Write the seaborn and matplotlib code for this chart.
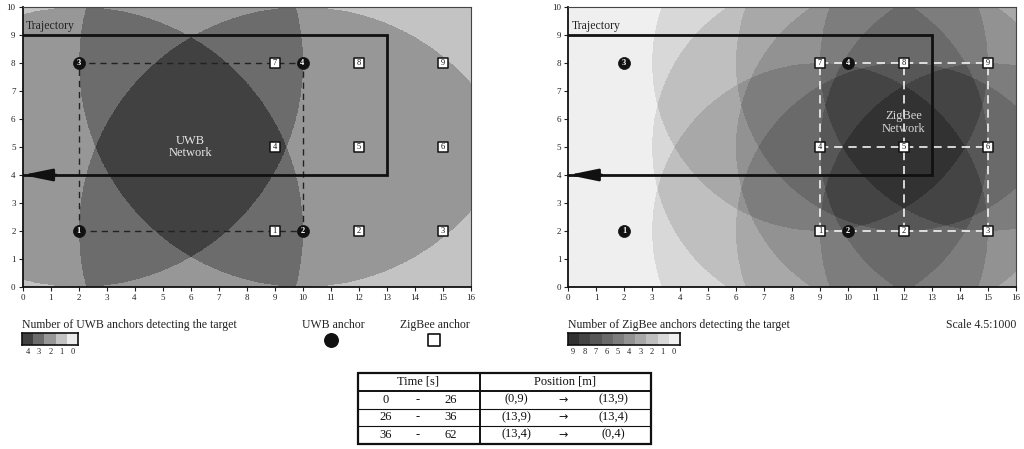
import numpy as np
import matplotlib
matplotlib.use("Agg")
import matplotlib.pyplot as plt
from matplotlib.colors import ListedColormap, BoundaryNorm
import seaborn as sns

# ---------------- data ----------------
uwb_ids = [1, 2, 3, 4]
uwb_x = [2, 10, 2, 10]
uwb_y = [2, 2, 8, 8]
uwb_range = 8.0

zig_ids = [1, 2, 3, 4, 5, 6, 7, 8, 9]
zig_x = [9, 12, 15, 9, 12, 15, 9, 12, 15]
zig_y = [2, 2, 2, 5, 5, 5, 8, 8, 8]
zig_range = 6.0

traj_x = [0, 13, 13, 0]
traj_y = [9, 9, 4, 4]

time_start = [0, 26, 36]
time_end = [26, 36, 62]
pos_from = ["(0,9)", "(13,9)", "(13,4)"]
pos_to = ["(13,9)", "(13,4)", "(0,4)"]

uwb_levels = [0, 1, 2, 3, 4]
uwb_colors = ["#ececec", "#c3c3c3", "#979797", "#6c6c6c", "#414141"]
zig_levels = [0, 1, 2, 3, 4, 5, 6, 7, 8, 9]
zig_colors = ["#efefef", "#d8d8d8", "#bfbfbf", "#a8a8a8", "#929292",
              "#7d7d7d", "#6a6a6a", "#575757", "#444444", "#323232"]

x_ticks = list(range(0, 17))
y_ticks = list(range(0, 11))

# ---------------- style ----------------
sns.set_theme(style="ticks")
plt.rcParams["font.family"] = ["Liberation Serif", "DejaVu Serif"]
plt.rcParams["mathtext.fontset"] = "stix"

W, H = 1024, 449
fig = plt.figure(figsize=(W / 100, H / 100), dpi=100)
fig.patch.set_facecolor("white")


def fpos(x0, y0, x1, y1):
    return [x0 / W, 1 - y1 / H, (x1 - x0) / W, (y1 - y0) / H]


gx = np.linspace(0, 16, 1601)
gy = np.linspace(0, 10, 1001)
GX, GY = np.meshgrid(gx, gy)


def coverage(ax_list, ay_list, r):
    c = np.zeros_like(GX, dtype=int)
    for a, b in zip(ax_list, ay_list):
        c += ((GX - a) ** 2 + (GY - b) ** 2 <= r * r).astype(int)
    return c


def style_axes(ax):
    ax.set_xlim(0, 16)
    ax.set_ylim(0, 10)
    ax.set_xticks(x_ticks)
    ax.set_yticks(y_ticks)
    ax.tick_params(direction="out", length=3, width=0.8, labelsize=6.5,
                   pad=2, colors="#222222")
    for s in ["left", "bottom"]:
        ax.spines[s].set_linewidth(1.3)
        ax.spines[s].set_color("#111111")
    for s in ["top", "right"]:
        ax.spines[s].set_linewidth(0.8)
        ax.spines[s].set_color("#444444")


def draw_traj(ax):
    ax.plot(traj_x, traj_y, color="#111111", lw=2.0, solid_joinstyle="miter",
            zorder=5)
    ax.annotate("", xy=(traj_x[-1], traj_y[-1]),
                xytext=(traj_x[-1] + 1.2, traj_y[-1]),
                arrowprops=dict(arrowstyle="-|>,head_length=1.75,head_width=0.36",
                                color="#111111", lw=2, shrinkA=0, shrinkB=0,
                                mutation_scale=10),
                zorder=6)
    ax.text(0.12, 9.33, "Trajectory", fontsize=8.5, va="center", ha="left",
            color="#222222", zorder=6)


def draw_uwb(ax):
    sns.scatterplot(x=uwb_x, y=uwb_y, ax=ax, marker="o", s=75,
                    color="#111111", edgecolor="#111111", linewidth=0.5,
                    zorder=8, legend=False)
    for i, a, b in zip(uwb_ids, uwb_x, uwb_y):
        ax.text(a, b, str(i), color="white", fontsize=6, fontweight="bold",
                ha="center", va="center", zorder=9)


def draw_zig(ax):
    sns.scatterplot(x=zig_x, y=zig_y, ax=ax, marker="s", s=62,
                    color="white", edgecolor="#111111", linewidth=1.1,
                    zorder=8, legend=False)
    for i, a, b in zip(zig_ids, zig_x, zig_y):
        ax.text(a, b, str(i), color="#111111", fontsize=6,
                ha="center", va="center", zorder=9)


# ---------------- left panel (UWB) ----------------
axL = fig.add_axes(fpos(22.5, 7.3, 470.5, 286.8))
cmapL = ListedColormap(uwb_colors)
normL = BoundaryNorm(np.arange(-0.5, len(uwb_levels)), cmapL.N)
axL.imshow(coverage(uwb_x, uwb_y, uwb_range), origin="lower",
           extent=(0, 16, 0, 10), cmap=cmapL, norm=normL, aspect="auto",
           interpolation="nearest", zorder=0)
style_axes(axL)
# dashed UWB network rectangle
rx = [uwb_x[0], uwb_x[1], uwb_x[3], uwb_x[2], uwb_x[0]]
ry = [uwb_y[0], uwb_y[1], uwb_y[3], uwb_y[2], uwb_y[0]]
axL.plot(rx, ry, color="#222222", lw=1.0, ls=(0, (4.5, 3.5)), zorder=3)
draw_traj(axL)
draw_uwb(axL)
draw_zig(axL)
axL.text(6.0, 5.0, "UWB\nNetwork", color="#e8e8e8", fontsize=9,
         ha="center", va="center", linespacing=1.1, zorder=6)

# ---------------- right panel (ZigBee) ----------------
axR = fig.add_axes(fpos(568.3, 7.3, 1015.7, 286.8))
cmapR = ListedColormap(zig_colors)
normR = BoundaryNorm(np.arange(-0.5, len(zig_levels)), cmapR.N)
axR.imshow(coverage(zig_x, zig_y, zig_range), origin="lower",
           extent=(0, 16, 0, 10), cmap=cmapR, norm=normR, aspect="auto",
           interpolation="nearest", zorder=0)
style_axes(axR)
# white dashed ZigBee grid
for yy in sorted(set(zig_y)):
    axR.plot([min(zig_x), max(zig_x)], [yy, yy], color="#f2f2f2", lw=1.2,
             ls=(0, (5, 3.5)), zorder=3)
for xx in sorted(set(zig_x)):
    axR.plot([xx, xx], [min(zig_y), max(zig_y)], color="#f2f2f2", lw=1.2,
             ls=(0, (5, 3.5)), zorder=3)
draw_traj(axR)
draw_uwb(axR)
draw_zig(axR)
axR.text(12.0, 5.87, "ZigBee\nNetwork", color="#d6d6d6", fontsize=9,
         ha="center", va="center", linespacing=1.1, zorder=6)

# ---------------- colour legends ----------------
def color_bar(pos, colors, levels):
    cax = fig.add_axes(pos)
    vals = np.array(levels[::-1])[None, :]
    cmap = ListedColormap(colors)
    norm = BoundaryNorm(np.arange(-0.5, len(levels)), cmap.N)
    cax.imshow(vals, cmap=cmap, norm=norm, aspect="auto",
               extent=(-0.5, len(levels) - 0.5, 0, 1))
    cax.set_xticks(range(len(levels)))
    cax.set_xticklabels([str(v) for v in levels[::-1]])
    cax.set_yticks([])
    cax.tick_params(axis="x", length=0, labelsize=6, pad=2, colors="#222222")
    for s in cax.spines.values():
        s.set_linewidth(1.2)
        s.set_color("#111111")
    return cax


color_bar(fpos(22.3, 333.3, 78.3, 345.3), uwb_colors, uwb_levels)
color_bar(fpos(567.5, 333.3, 679.5, 345.3), zig_colors, zig_levels)

# ---------------- overlay (legend texts, markers, table) ----------------
ov = fig.add_axes([0, 0, 1, 1])
ov.set_xlim(0, W)
ov.set_ylim(H, 0)
ov.axis("off")

fs_leg = 8.5
ov.text(22, 325, "Number of UWB anchors detecting the target", fontsize=fs_leg,
        ha="left", va="center", color="#222222")
ov.text(333, 325, "UWB anchor", fontsize=fs_leg, ha="center", va="center",
        color="#222222")
ov.text(435, 325, "ZigBee anchor", fontsize=fs_leg, ha="center", va="center",
        color="#222222")
ov.text(568, 325, "Number of ZigBee anchors detecting the target",
        fontsize=fs_leg, ha="left", va="center", color="#222222")
ov.text(1016, 325, "Scale 4.5:1000", fontsize=fs_leg, ha="right",
        va="center", color="#222222")
ov.scatter([331], [340], s=95, marker="o", color="#111111", zorder=5)
ov.scatter([434], [340], s=80, marker="s", facecolor="white",
           edgecolor="#111111", linewidth=1.2, zorder=5)

# table
tx0, tx1, tdiv = 358, 651, 480
ty = [373, 391, 408.5, 426, 443.5]
ov.plot([tx0, tx1, tx1, tx0, tx0], [ty[0], ty[0], ty[-1], ty[-1], ty[0]],
        color="#111111", lw=1.6, solid_joinstyle="miter")
ov.plot([tdiv, tdiv], [ty[0], ty[-1]], color="#111111", lw=1.4)
ov.plot([tx0, tx1], [ty[1], ty[1]], color="#111111", lw=1.4)
for yy in ty[2:-1]:
    ov.plot([tx0, tx1], [yy, yy], color="#111111", lw=0.8)

fs_tab = 9
ov.text(418, (ty[0] + ty[1]) / 2, "Time [s]", fontsize=fs_tab, ha="center",
        va="center", color="#111111")
ov.text(565, (ty[0] + ty[1]) / 2, "Position [m]", fontsize=fs_tab,
        ha="center", va="center", color="#111111")
for i in range(3):
    yc = (ty[i + 1] + ty[i + 2]) / 2
    ov.text(386, yc, str(time_start[i]), fontsize=fs_tab, ha="center",
            va="center", color="#111111")
    ov.text(418, yc, "-", fontsize=fs_tab, ha="center", va="center",
            color="#111111")
    ov.text(451, yc, str(time_end[i]), fontsize=fs_tab, ha="center",
            va="center", color="#111111")
    ov.text(516, yc, pos_from[i], fontsize=fs_tab, ha="center", va="center",
            color="#111111")
    ov.text(563, yc, "\u2192", fontsize=fs_tab - 1, ha="center", va="center",
            color="#111111", family=["DejaVu Sans"])
    ov.text(613, yc, pos_to[i], fontsize=fs_tab, ha="center", va="center",
            color="#111111")

fig.savefig("out.png", dpi=100, facecolor="white")
